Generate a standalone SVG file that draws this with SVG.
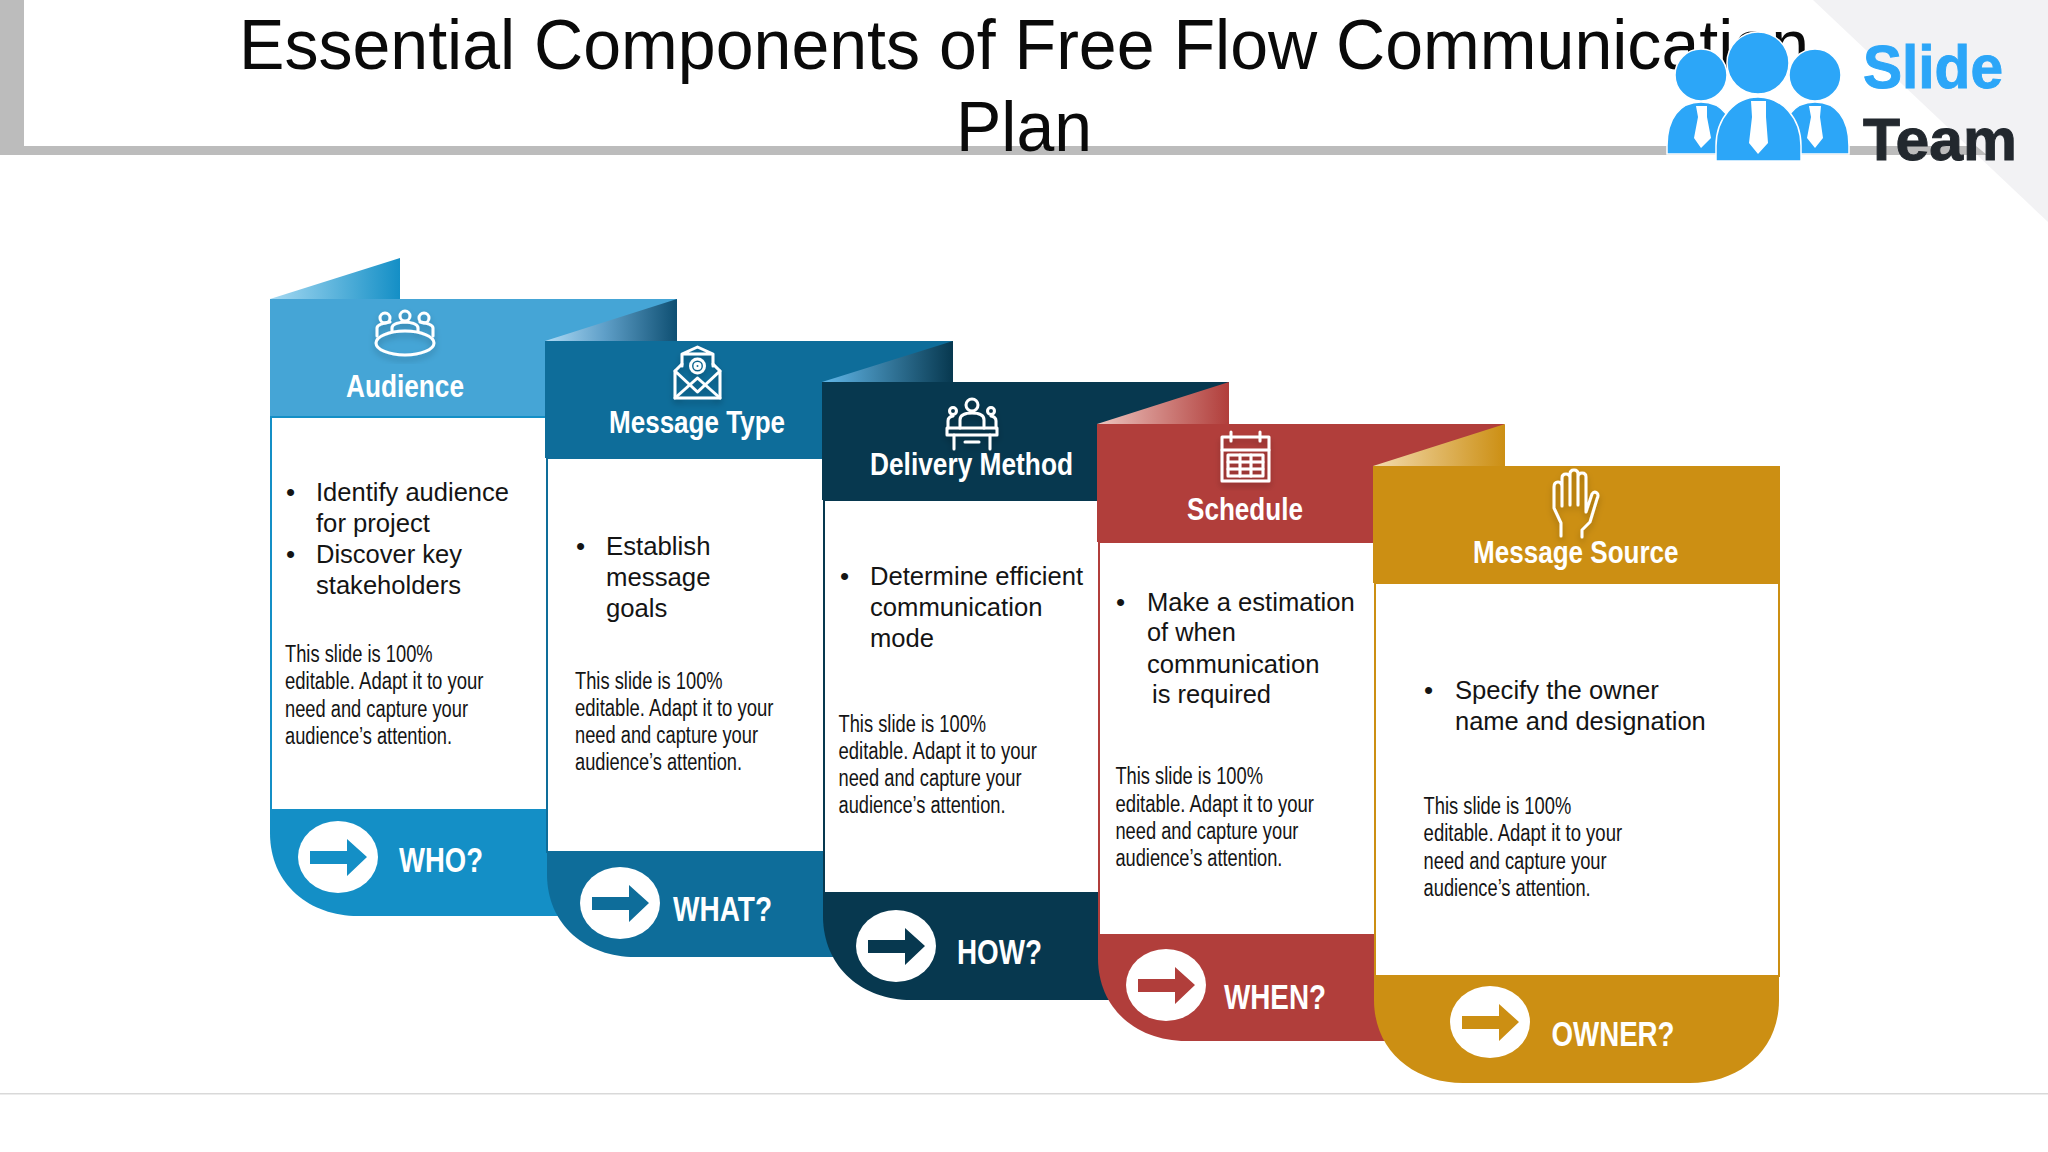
<svg xmlns="http://www.w3.org/2000/svg" width="2048" height="1152" viewBox="0 0 2048 1152">
<style>
text{font-family:"Liberation Sans",Arial,sans-serif}
.title{font-size:71px;fill:#0a0a0a}
.hd{font-size:32px;font-weight:bold;fill:#fff;stroke:none}
.q{font-size:35px;font-weight:bold;fill:#fff;stroke:none}
.b{font-size:26px;fill:#141414}
.s{font-size:23px;fill:#141414}
.ic{fill:none;stroke:#fff;stroke-width:3;stroke-linejoin:round;stroke-linecap:round;filter:url(#sh)}
.disc{fill:#fff}
.logo{fill:#2ca6f8;stroke:#fff;stroke-width:1.5}
.tie{fill:#fff}
</style>
<defs>
<linearGradient id="f1"><stop offset="0" stop-color="#a5d9f2"/><stop offset="1" stop-color="#148fc6"/></linearGradient>
<linearGradient id="f2"><stop offset="0" stop-color="#b0dcf6"/><stop offset=".45" stop-color="#5f9fc8"/><stop offset="1" stop-color="#0e4f72"/></linearGradient>
<linearGradient id="f3"><stop offset="0" stop-color="#62b8ea"/><stop offset="1" stop-color="#07384f"/></linearGradient>
<linearGradient id="f4"><stop offset="0" stop-color="#edc5c0"/><stop offset="1" stop-color="#b13e3b"/></linearGradient>
<linearGradient id="f5"><stop offset="0" stop-color="#f3dcb0"/><stop offset="1" stop-color="#cc8f13"/></linearGradient>
<filter id="sh" x="-20%" y="-20%" width="140%" height="140%"><feDropShadow dx="0" dy="4" stdDeviation="3" flood-color="#000" flood-opacity=".22"/></filter>
</defs>

<g id="background">
<rect width="2048" height="1152" fill="#fff"/>
<polygon points="1813,0 2048,0 2048,222" fill="#f2f2f4"/>
<rect x="0" y="0" width="24" height="155" fill="#bcbcbc"/>
<polygon points="0,146 1976,146 1987,155 0,155" fill="#bcbcbc"/>
<rect x="0" y="1093" width="2048" height="1.5" fill="#d9d9d9"/>
</g>

<g id="title">
<text class="title" x="239" y="69" textLength="1570" lengthAdjust="spacingAndGlyphs">Essential Components of Free Flow Communication</text>
<text class="title" x="956" y="151" textLength="136" lengthAdjust="spacingAndGlyphs">Plan</text>
</g>

<g id="connectors"></g>

<g id="card-audience">
<polygon points="270,299 400,258 400,299" fill="url(#f1)"/>
<rect x="270" y="299" width="407" height="118" fill="#45a5d6"/>
<rect x="271" y="417" width="405" height="393" fill="#fff" stroke="#148fc6" stroke-width="2"/>
<path d="M270,810H677V833C677,885 637,916 589,916H358C310,916 270,885 270,833Z" fill="#148fc6"/>
<g class="ic">
<ellipse cx="405" cy="343" rx="29" ry="12"/>
<circle cx="405" cy="316" r="5"/><circle cx="385" cy="318" r="5"/><circle cx="424" cy="318" r="5"/>
<path d="M377,336V328Q377,324 390,322M433,336V328Q433,324 420,322M392,331V328Q392,323 405,322Q418,323 418,328V331"/>
</g>
<text class="hd" x="346" y="397" textLength="118" lengthAdjust="spacingAndGlyphs">Audience</text>
<text class="b" x="286" y="501">•</text>
<text class="b" x="316" y="501" textLength="193" lengthAdjust="spacingAndGlyphs">Identify audience</text>
<text class="b" x="316" y="532" textLength="114" lengthAdjust="spacingAndGlyphs">for project</text>
<text class="b" x="286" y="563">•</text>
<text class="b" x="316" y="563" textLength="146" lengthAdjust="spacingAndGlyphs">Discover key</text>
<text class="b" x="316" y="594" textLength="145" lengthAdjust="spacingAndGlyphs">stakeholders</text>
<text class="s" x="285" y="662" textLength="147.6" lengthAdjust="spacingAndGlyphs">This slide is 100%</text>
<text class="s" x="285" y="689" textLength="198.5" lengthAdjust="spacingAndGlyphs">editable. Adapt it to your</text>
<text class="s" x="285" y="716.500" textLength="183" lengthAdjust="spacingAndGlyphs">need and capture your</text>
<text class="s" x="285" y="743.500" textLength="167" lengthAdjust="spacingAndGlyphs">audience’s attention.</text>
<ellipse class="disc" cx="338" cy="857" rx="40" ry="36"/>
<polygon points="310,851 347,851 347,839 367,857 347,876 347,864 310,864" fill="#148fc6"/>
<text class="q" x="399" y="872" textLength="84" lengthAdjust="spacingAndGlyphs">WHO?</text>
</g>

<g id="card-message-type">
<polygon points="545,341 677,299 677,341" fill="url(#f2)"/>
<rect x="545" y="341" width="408" height="117" fill="#0e6d9a"/>
<rect x="547" y="458" width="405" height="394" fill="#fff" stroke="#0e6d9a" stroke-width="2"/>
<path d="M547,852H953V874C953,926 913,957 865,957H635C587,957 547,926 547,874Z" fill="#0e6d9a"/>
<g class="ic">
<path d="M675,371V398H720V371L697.500,392Z"/>
<path d="M675,398L697.500,378L720,398"/>
<path d="M682,366V354H713V366M682,354L697.500,347L713,354"/>
<path d="M682,364L675,371M713,364L720,371"/>
<circle cx="697.500" cy="366" r="7"/><circle cx="697.500" cy="366" r="2.500"/>
</g>
<text class="hd" x="609" y="433" textLength="176" lengthAdjust="spacingAndGlyphs">Message Type</text>
<text class="b" x="576" y="555">•</text>
<text class="b" x="606" y="555" textLength="104.5" lengthAdjust="spacingAndGlyphs">Establish</text>
<text class="b" x="606" y="585.500" textLength="104.5" lengthAdjust="spacingAndGlyphs">message</text>
<text class="b" x="606" y="616.5" textLength="61.4" lengthAdjust="spacingAndGlyphs">goals</text>
<text class="s" x="575" y="688.500" textLength="147.6" lengthAdjust="spacingAndGlyphs">This slide is 100%</text>
<text class="s" x="575" y="716" textLength="198.5" lengthAdjust="spacingAndGlyphs">editable. Adapt it to your</text>
<text class="s" x="575" y="743" textLength="183" lengthAdjust="spacingAndGlyphs">need and capture your</text>
<text class="s" x="575" y="769.5" textLength="167" lengthAdjust="spacingAndGlyphs">audience’s attention.</text>
<ellipse class="disc" cx="620" cy="903" rx="40" ry="36"/>
<polygon points="592,897 629,897 629,885 649,903 629,922 629,910 592,910" fill="#0e6d9a"/>
<text class="q" x="673" y="921" textLength="99" lengthAdjust="spacingAndGlyphs">WHAT?</text>
</g>

<g id="card-delivery-method">
<polygon points="822,382 953,341 953,382" fill="url(#f3)"/>
<rect x="822" y="382" width="407" height="118" fill="#07384f"/>
<rect x="824" y="500" width="404" height="393" fill="#fff" stroke="#07384f" stroke-width="2"/>
<path d="M823,893H1229V916C1229,968 1189,1000 1141,1000H911C863,1000 823,968 823,916Z" fill="#07384f"/>
<g class="ic">
<circle cx="972" cy="405" r="6"/><circle cx="953" cy="411" r="3.500"/><circle cx="991" cy="411" r="3.500"/>
<path d="M960,428V420Q960,413 972,413Q984,413 984,420V428M948,428V421Q948,417 953,416M996,428V421Q996,417 991,416"/>
<rect x="947" y="428" width="50" height="7"/>
<path d="M954,435V449M990,435V449M965,442H979"/>
</g>
<text class="hd" x="870" y="475" textLength="203" lengthAdjust="spacingAndGlyphs">Delivery Method</text>
<text class="b" x="840" y="585">•</text>
<text class="b" x="870" y="585" textLength="213" lengthAdjust="spacingAndGlyphs">Determine efficient</text>
<text class="b" x="870" y="615.500" textLength="172.4" lengthAdjust="spacingAndGlyphs">communication</text>
<text class="b" x="870" y="646.5" textLength="64" lengthAdjust="spacingAndGlyphs">mode</text>
<text class="s" x="838.500" y="731.500" textLength="147.6" lengthAdjust="spacingAndGlyphs">This slide is 100%</text>
<text class="s" x="838.500" y="759" textLength="198.5" lengthAdjust="spacingAndGlyphs">editable. Adapt it to your</text>
<text class="s" x="838.500" y="786" textLength="183" lengthAdjust="spacingAndGlyphs">need and capture your</text>
<text class="s" x="838.500" y="813.200" textLength="167" lengthAdjust="spacingAndGlyphs">audience’s attention.</text>
<ellipse class="disc" cx="896" cy="946" rx="40" ry="36"/>
<polygon points="868,940 905,940 905,928 925,946 905,965 905,953 868,953" fill="#07384f"/>
<text class="q" x="957" y="964" textLength="85" lengthAdjust="spacingAndGlyphs">HOW?</text>
</g>

<g id="card-schedule">
<polygon points="1097,424 1229,382 1229,424" fill="url(#f4)"/>
<rect x="1097" y="424" width="407" height="118" fill="#b13e3b"/>
<rect x="1099" y="542" width="404" height="393" fill="#fff" stroke="#b13e3b" stroke-width="2"/>
<path d="M1098,935H1504V958C1504,1010 1464,1041 1416,1041H1186C1138,1041 1098,1010 1098,958Z" fill="#b13e3b"/>
<g class="ic">
<rect x="1222" y="437" width="47" height="44"/>
<path d="M1222,450H1269M1231,432V441M1260,432V441"/>
<rect x="1228" y="455" width="35" height="21"/>
<path d="M1228,462H1263M1228,469H1263M1240,455V476M1251,455V476"/>
</g>
<text class="hd" x="1187" y="520" textLength="116" lengthAdjust="spacingAndGlyphs">Schedule</text>
<text class="b" x="1116" y="611">•</text>
<text class="b" x="1147" y="611" textLength="207.7" lengthAdjust="spacingAndGlyphs">Make a estimation</text>
<text class="b" x="1147" y="641" textLength="88.8" lengthAdjust="spacingAndGlyphs">of when</text>
<text class="b" x="1147" y="672.6" textLength="172.4" lengthAdjust="spacingAndGlyphs">communication</text>
<text class="b" x="1152" y="703" textLength="119" lengthAdjust="spacingAndGlyphs">is required</text>
<text class="s" x="1115.400" y="784" textLength="147.6" lengthAdjust="spacingAndGlyphs">This slide is 100%</text>
<text class="s" x="1115.400" y="811.500" textLength="198.5" lengthAdjust="spacingAndGlyphs">editable. Adapt it to your</text>
<text class="s" x="1115.400" y="838.500" textLength="183" lengthAdjust="spacingAndGlyphs">need and capture your</text>
<text class="s" x="1115.400" y="866" textLength="167" lengthAdjust="spacingAndGlyphs">audience’s attention.</text>
<ellipse class="disc" cx="1166" cy="985" rx="40" ry="36"/>
<polygon points="1138,979 1175,979 1175,967 1195,985 1175,1004 1175,992 1138,992" fill="#b13e3b"/>
<text class="q" x="1224" y="1009" textLength="102" lengthAdjust="spacingAndGlyphs">WHEN?</text>
</g>

<g id="card-message-source">
<polygon points="1373,466 1505,424 1505,466" fill="url(#f5)"/>
<rect x="1373" y="466" width="407" height="117" fill="#cc8f13"/>
<rect x="1375" y="583" width="404" height="393" fill="#fff" stroke="#cc8f13" stroke-width="2"/>
<path d="M1374,976H1779V1000C1779,1051 1739,1083 1690,1083H1463C1414,1083 1374,1051 1374,1000Z" fill="#cc8f13"/>
<g class="ic">
<path d="M1561,536V523L1554,508V487Q1554,482 1558,482Q1562,482 1562,487V506M1562,487V478Q1562,474 1566,474Q1570,474 1570,478V505M1570,478V474Q1570,470 1574,470Q1578,470 1578,474V505M1578,477Q1578,473 1582,473Q1586,473 1586,477V506L1586,512L1592,494Q1594,491 1597,493Q1599,495 1597,499L1590,522L1582,530V537"/>
</g>
<text class="hd" x="1473" y="563" textLength="205.6" lengthAdjust="spacingAndGlyphs">Message Source</text>
<text class="b" x="1424" y="698.800">•</text>
<text class="b" x="1455" y="698.800" textLength="203.7" lengthAdjust="spacingAndGlyphs">Specify the owner</text>
<text class="b" x="1455" y="730" textLength="250.8" lengthAdjust="spacingAndGlyphs">name and designation</text>
<text class="s" x="1423.600" y="813.700" textLength="147.6" lengthAdjust="spacingAndGlyphs">This slide is 100%</text>
<text class="s" x="1423.600" y="841" textLength="198.5" lengthAdjust="spacingAndGlyphs">editable. Adapt it to your</text>
<text class="s" x="1423.600" y="868.500" textLength="183" lengthAdjust="spacingAndGlyphs">need and capture your</text>
<text class="s" x="1423.600" y="896" textLength="167" lengthAdjust="spacingAndGlyphs">audience’s attention.</text>
<ellipse class="disc" cx="1490" cy="1022" rx="40" ry="36"/>
<polygon points="1462,1016 1499,1016 1499,1004 1519,1022 1499,1041 1499,1029 1462,1029" fill="#cc8f13"/>
<text class="q" x="1551.500" y="1046" textLength="123" lengthAdjust="spacingAndGlyphs">OWNER?</text>
</g>

<g id="logo">
<circle class="logo" cx="1701" cy="75" r="26"/>
<circle class="logo" cx="1815" cy="75" r="26"/>
<path class="logo" d="M1667,154V146C1667,118 1680,102 1701,102C1722,102 1735,118 1735,146V154Z"/>
<path class="logo" d="M1781,154V146C1781,118 1794,102 1815,102C1836,102 1849,118 1849,146V154Z"/>
<circle class="logo" cx="1758" cy="63" r="31"/>
<path class="logo" d="M1716,161V146C1716,118 1735,97 1758,97C1782,97 1801,118 1801,146V161Z"/>
<polygon class="tie" points="1696,106 1707,106 1707,117 1711,138 1701,148 1694,138 1698,117"/>
<polygon class="tie" points="1809,106 1821,106 1820,117 1823,138 1815,148 1807,138 1811,117"/>
<polygon class="tie" points="1751,101 1766,101 1766,117 1768,143 1758,154 1749,143 1752,117"/>
<text x="1863" y="88" font-family="'Open Sans','Noto Sans',sans-serif" font-weight="700" font-size="62" fill="#2ca6f8" stroke="#2ca6f8" stroke-width="1" textLength="140" lengthAdjust="spacingAndGlyphs">Slide</text>
<text x="1863" y="160" font-family="'Open Sans','Noto Sans',sans-serif" font-weight="700" font-size="60" fill="#22282e" stroke="#22282e" stroke-width="1" textLength="154" lengthAdjust="spacingAndGlyphs">Team</text>
</g>
</svg>
